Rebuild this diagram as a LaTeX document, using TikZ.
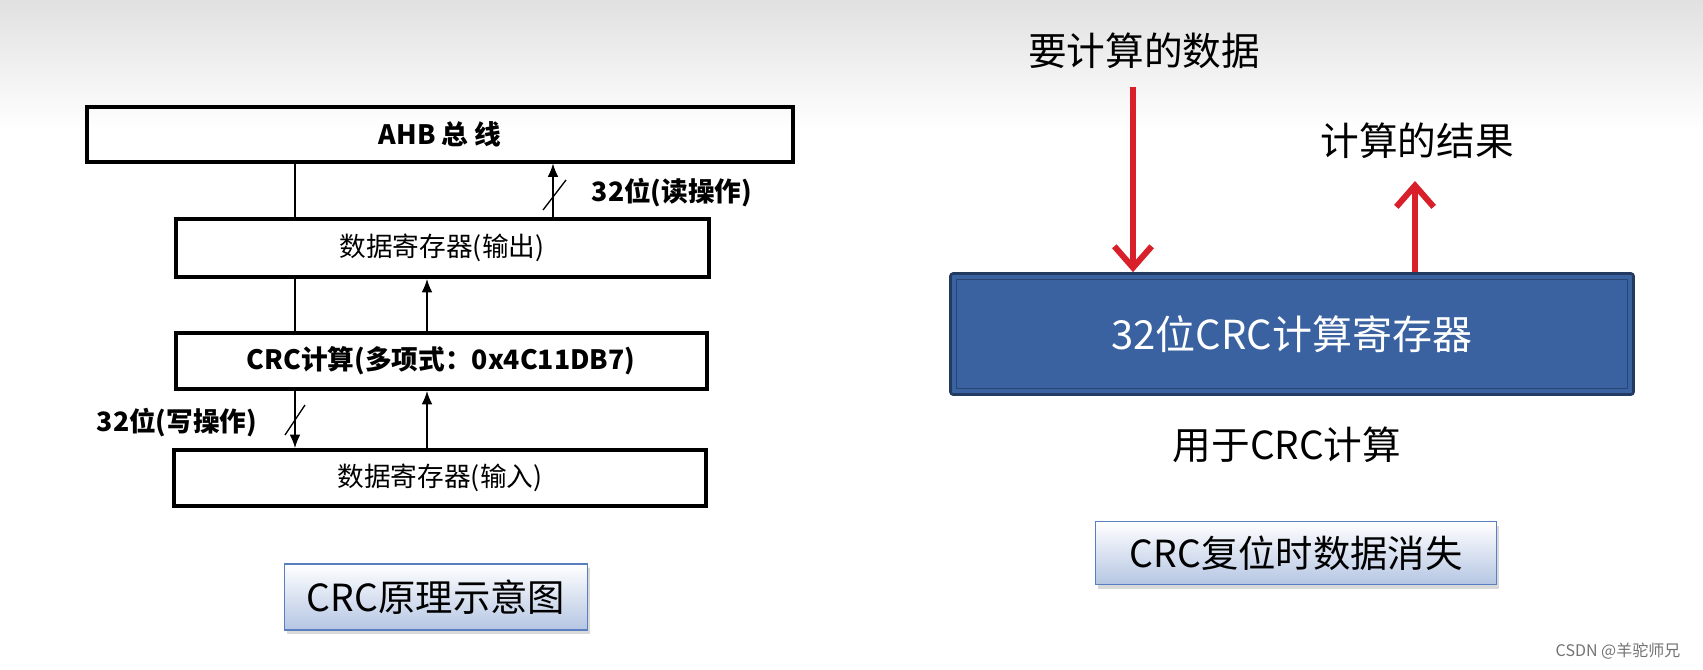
\documentclass[tikz,border=0pt]{standalone}
\usepackage{fontspec}
\setmainfont{Noto Sans CJK SC}
\usetikzlibrary{arrows.meta,shadows}
\definecolor{boxblue}{HTML}{3A62A0}
\definecolor{capblue}{HTML}{5A7FC0}
\definecolor{arrred}{HTML}{D81F2A}
\begin{document}
\begin{tikzpicture}[x=0.75pt,y=-0.75pt,
  reg/.style={draw=black,line width=3pt,inner sep=0pt,font=\fontsize{20}{22}\selectfont},
  conn/.style={line width=1pt},
  arr/.style={conn,-{Latex[length=10pt,width=8pt]}},
  capbox/.style={draw=capblue,line width=1pt,top color=white,bottom color=capblue!45,inner sep=0pt,font=\fontsize{28}{30}\selectfont,drop shadow={opacity=0.3,shadow xshift=2pt,shadow yshift=-3pt}},
  lbl/.style={font=\fontsize{29}{32}\selectfont},
  redarr/.style={draw=arrred,line width=4.5pt,-{Straight Barb[length=16pt,width=28pt,line width=4.5pt]}}]
\useasboundingbox (0,0) rectangle (1703,669);
\shade[top color=black!12,bottom color=white] (0,0) rectangle (1703,130);
% left diagram
\node[reg,minimum width=706*0.75pt,minimum height=55*0.75pt] (ahb) at (440,134) {\bfseries AHB 总 线};
\node[reg,minimum width=533*0.75pt,minimum height=58*0.75pt] (out) at (442,248) {数据寄存器(输出)};
\node[reg,minimum width=531*0.75pt,minimum height=56*0.75pt] (crc) at (441,361) {\bfseries CRC计算(多项式：0x4C11DB7)};
\node[reg,minimum width=532*0.75pt,minimum height=56*0.75pt] (in) at (440,478) {数据寄存器(输入)};
\draw[conn] (ahb.south -| 295,0) -- (out.north -| 295,0);
\draw[conn] (out.south -| 295,0) -- (crc.north -| 295,0);
\draw[arr] (crc.south -| 295,0) -- (in.north -| 295,0);
\draw[arr] (crc.north -| 427,0) -- (out.south -| 427,0);
\draw[arr] (in.north -| 427,0) -- (crc.south -| 427,0);
\draw[arr] (out.north -| 553,0) -- (ahb.south -| 553,0);
\coordinate (s1a) at (543,210); \coordinate (s1b) at (566,180);
\draw[conn] (s1a) -- (s1b);
\coordinate (s2a) at (285,435); \coordinate (s2b) at (305,405);
\draw[conn] (s2a) -- (s2b);
\node[font=\fontsize{20}{22}\selectfont] (rd) at (672,193) {\bfseries 32位(读操作)};
\node[font=\fontsize{20}{22}\selectfont] (wr) at (177,423) {\bfseries 32位(写操作)};
\node[capbox,minimum width=303*0.75pt,minimum height=66*0.75pt] (cap1) at (436,597) {CRC原理示意图};
% right diagram
\node[draw=boxblue!60!black,line width=2pt,fill=boxblue,rounded corners=2pt,minimum width=683*0.75pt,minimum height=121*0.75pt,text=white,font=\fontsize{30}{32}\selectfont] (reg) at (1292,334) {32位CRC计算寄存器};
\draw[boxblue!70!black,line width=0.8pt] ([shift={(7,7)}]reg.north west) rectangle ([shift={(-7,-7)}]reg.south east);
\node[lbl] (data) at (1144,51) {要计算的数据};
\node[lbl] (res) at (1417,141) {计算的结果};
\coordinate (d0) at (1133,87);
\coordinate (r1) at (1415,181);
\draw[redarr] (d0) -- (reg.north -| d0);
\draw[redarr] (reg.north -| r1) -- (r1);
\node[lbl] (use) at (1287,445) {用于CRC计算};
\node[capbox,minimum width=401*0.75pt,minimum height=63*0.75pt] (cap2) at (1296,553) {CRC复位时数据消失};
\node[text=black!55,font=\fontsize{12}{14}\selectfont] (csdn) at (1618,651) {CSDN @羊驼师兄};
\end{tikzpicture}
\end{document}
